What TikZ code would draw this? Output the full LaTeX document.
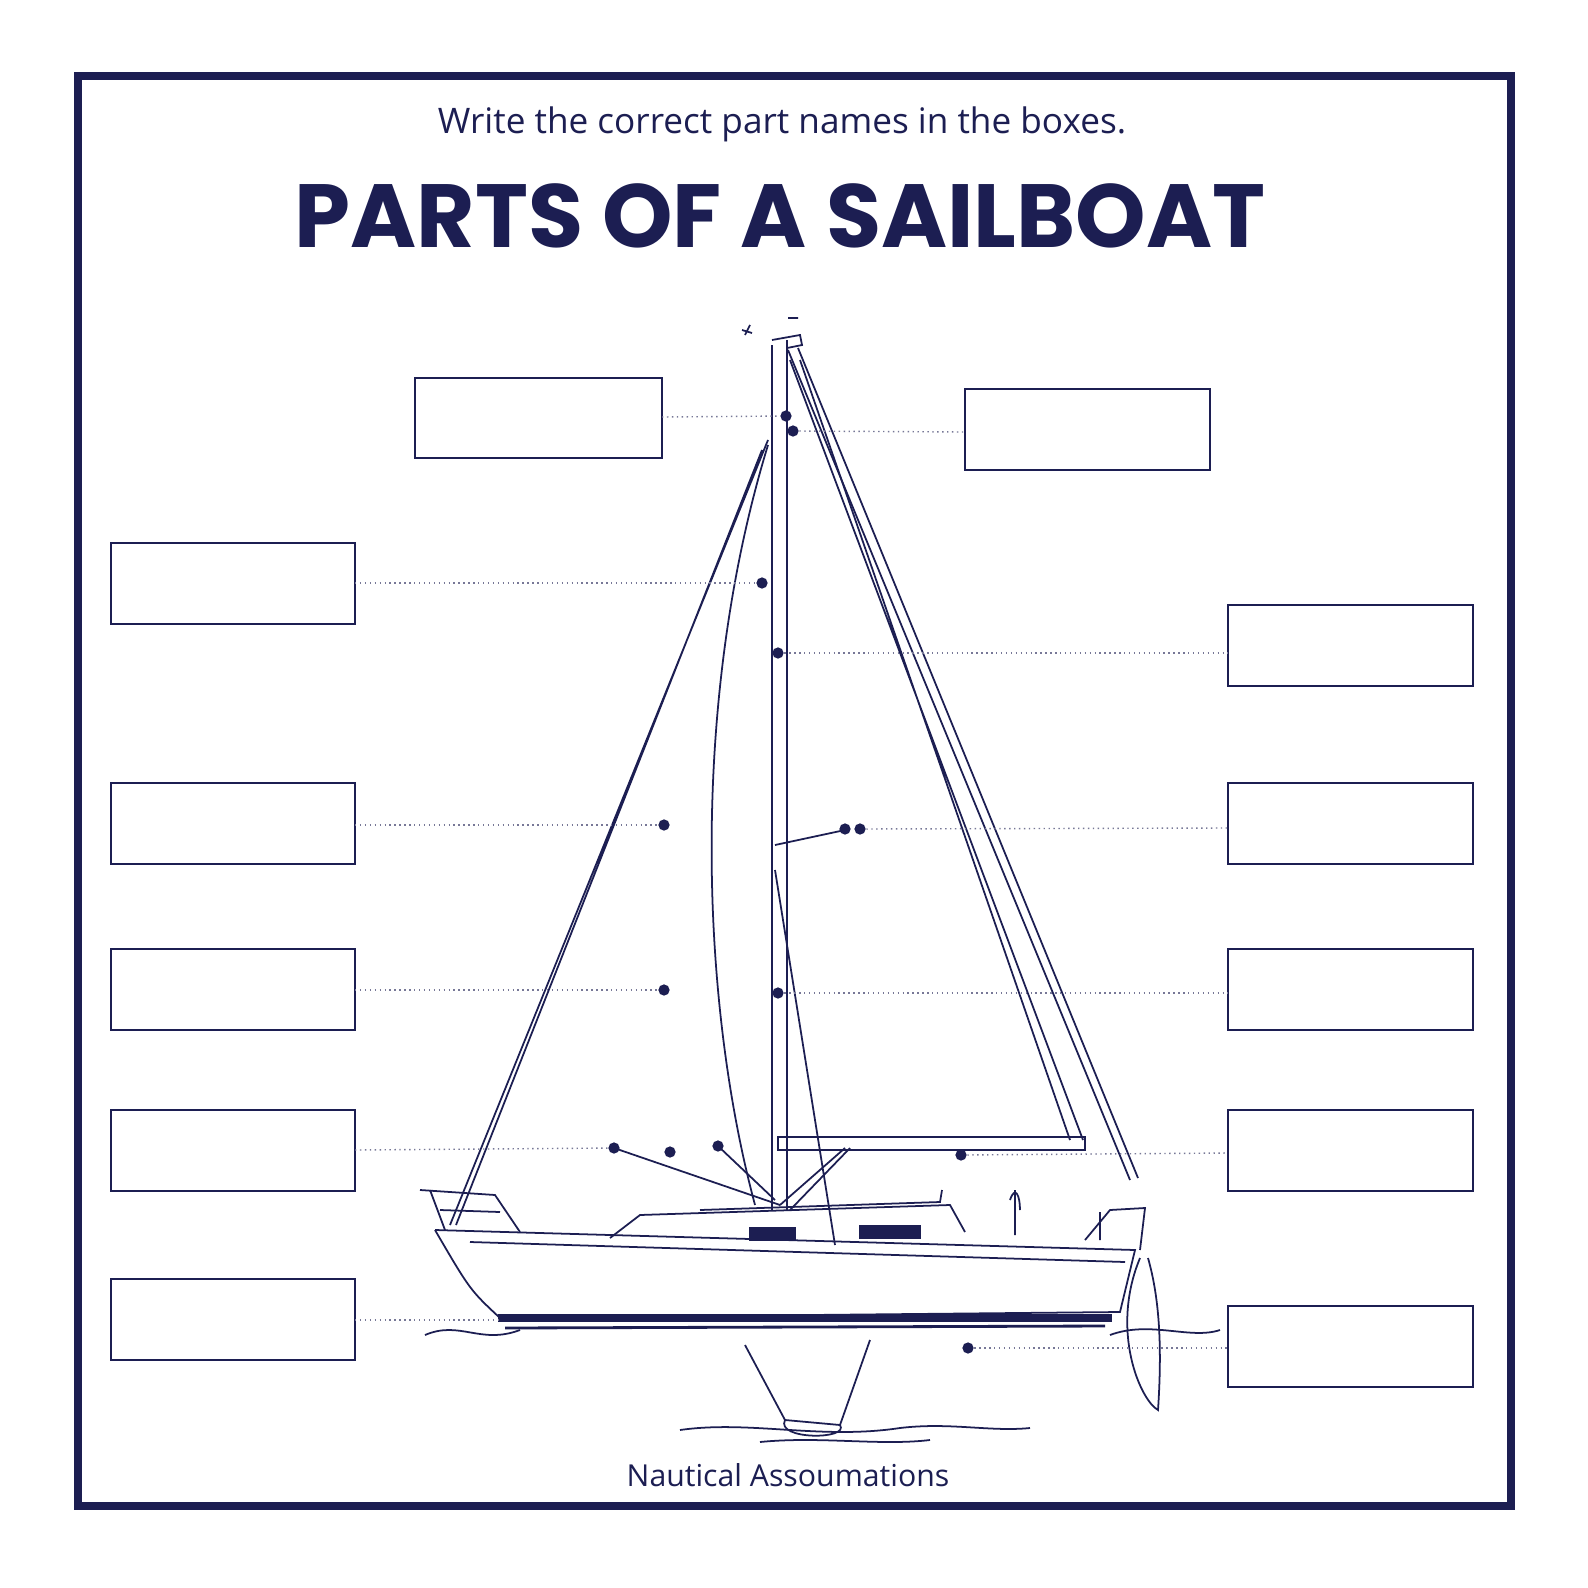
\documentclass[tikz,border=0pt]{standalone}
\usepackage{fontspec}
\setmainfont{Open Sans}
\newfontfamily\titlefont{Poppins}
\begin{document}
\begin{tikzpicture}[x=0.01cm,y=-0.01cm,
  lbox/.style={draw=navy,line width=0.7pt},
  lead/.style={draw=navy!60,densely dotted,line width=0.4pt},
  pt/.style={fill=navy,circle,inner sep=0pt,minimum size=3.2pt},
  ln/.style={draw=navy,line width=0.5pt}]
\definecolor{navy}{RGB}{28,30,82}
\useasboundingbox (0,0) rectangle (1588,1588);
\fill[white] (0,0) rectangle (1588,1588);
\draw[navy,line width=0.085cm] (78,76) rectangle (1511,1506);
\node[text=navy,font=\fontsize{10}{12}\selectfont] (sub) at (782,124) {Write the correct part names in the boxes.};
\node[text=navy,font=\titlefont\fontsize{25.5}{30}\bfseries\selectfont] (title) at (780,216) {PARTS OF A SAILBOAT};
\node[text=navy,font=\fontsize{8.6}{10}\selectfont] (foot) at (788,1475) {Nautical Assoumations};
% boxes
\foreach \n/\xa/\ya/\xb/\yb in {t1/415/378/662/458, t2/965/389/1210/470,
  l1/111/543/355/624, l2/111/783/355/864, l3/111/949/355/1030, l4/111/1110/355/1191, l5/111/1279/355/1360,
  r1/1228/605/1473/686, r2/1228/783/1473/864, r3/1228/949/1473/1030, r4/1228/1110/1473/1191, r5/1228/1306/1473/1387}
  {\draw[lbox] (\xa,\ya) rectangle (\xb,\yb); \coordinate (\n) at (\xa,\ya);}
% boat: sails and rigging
\draw[ln] (772,345) -- (772,1210) (787,340) -- (787,1210);
\draw[ln] (772,340) -- (800,335) -- (802,345) -- (787,348);
\draw[ln] (788,350) -- (1130,1180) (798,348) -- (1138,1178);
\draw[ln] (790,360) -- (1083,1140) (800,360) -- (1070,1140);
\draw[ln] (768,440) -- (450,1225) (762,450) -- (456,1225);
\draw[ln] (768,445) .. controls (690,700) and (700,1000) .. (755,1205);
\draw[ln] (778,1137) rectangle (1085,1150);
\draw[ln] (775,845) -- (845,830);
\draw[ln] (775,870) -- (835,1245) (790,1210) -- (850,1148) (780,1205) -- (845,1148);
\draw[ln] (614,1148) -- (780,1205) (718,1146) -- (775,1200);
\draw[ln] (745,335) -- (750,325) (742,330) -- (752,333) (788,318) -- (798,318);
% hull
\draw[ln] (435,1230) -- (1135,1250) -- (1120,1312) -- (500,1318) .. controls (470,1290) .. (435,1230);
\draw[ln] (470,1242) -- (1125,1262);
\draw[navy,line width=2pt] (498,1318) -- (1112,1318);
\draw[navy,line width=0.8pt] (505,1328) -- (1105,1326);
\draw[ln] (610,1238) -- (640,1215) -- (950,1205) -- (965,1232);
\draw[ln] (700,1210) -- (940,1202) -- (942,1190);
\draw[navy,fill=navy] (750,1228) rectangle (795,1240) (860,1226) rectangle (920,1238);
\draw[ln] (1015,1190) -- (1015,1235) (1010,1200) .. controls (1015,1185) and (1020,1195) .. (1020,1210);
\draw[ln] (420,1190) -- (495,1195) -- (520,1232) (430,1190) -- (445,1230) (440,1210) -- (500,1212);
\draw[ln] (1085,1240) -- (1110,1210) -- (1145,1208) -- (1140,1250) (1100,1212) -- (1100,1240);
% keel and rudder
\draw[ln] (745,1345) -- (785,1420) -- (840,1425) -- (870,1340);
\draw[ln] (785,1420) .. controls (775,1440) and (850,1440) .. (840,1425);
\draw[ln] (1140,1258) .. controls (1110,1330) and (1140,1400) .. (1158,1410) .. controls (1162,1350) and (1160,1300) .. (1148,1258);
% waves
\draw[ln] (425,1335) .. controls (460,1320) and (480,1345) .. (520,1330);
\draw[ln] (1110,1335) .. controls (1150,1320) and (1190,1340) .. (1220,1330);
\draw[ln] (680,1430) .. controls (750,1420) and (820,1440) .. (900,1428) .. controls (950,1422) and (990,1432) .. (1030,1428);
\draw[ln] (760,1442) .. controls (820,1436) and (880,1446) .. (930,1440);
% leaders and points
\node[pt] (p1) at (786,416) {};   \draw[lead] (662,417) -- (p1);
\node[pt] (p2) at (793,431) {};   \draw[lead] (p2) -- (965,432);
\node[pt] (p3) at (762,583) {};   \draw[lead] (355,583) -- (p3);
\node[pt] (p4) at (778,653) {};   \draw[lead] (p4) -- (1228,653);
\node[pt] (p5) at (664,825) {};   \draw[lead] (355,825) -- (p5);
\node[pt] (p6) at (845,829) {}; \node[pt] (p6b) at (860,829) {}; \draw[lead] (p6b) -- (1228,828);
\node[pt] (p7) at (664,990) {};   \draw[lead] (355,990) -- (p7);
\node[pt] (p8) at (778,993) {};   \draw[lead] (p8) -- (1228,993);
\node[pt] (p9) at (614,1148) {}; \node[pt] (p9b) at (670,1152) {}; \node[pt] (p9c) at (718,1146) {};
\draw[lead] (355,1150) -- (p9);
\node[pt] (p10) at (961,1155) {}; \draw[lead] (p10) -- (1228,1153);
\coordinate (p11) at (500,1320); \draw[lead] (355,1320) -- (p11);
\node[pt] (p12) at (968,1348) {}; \draw[lead] (p12) -- (1228,1348);
\end{tikzpicture}
\end{document}
